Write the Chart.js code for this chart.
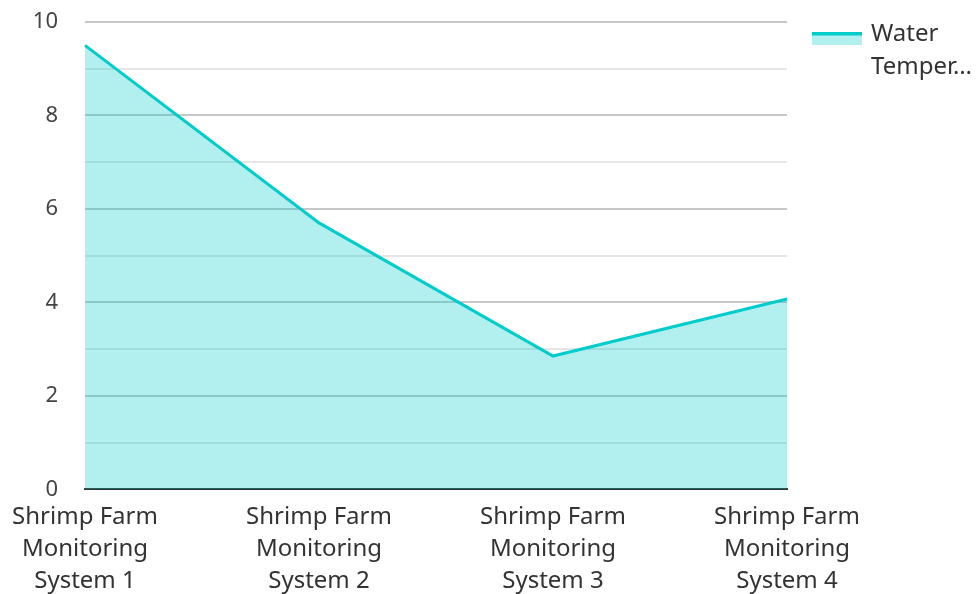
<!DOCTYPE html>
<html>
<head>
<meta charset="utf-8">
<script src="https://cdn.jsdelivr.net/npm/chart.js@4/dist/chart.umd.min.js"></script>
<style>
html,body{margin:0;padding:0;background:#fff;}
#wrap{width:977px;height:594px;position:relative;}
</style>
</head>
<body>
<div id="wrap"><canvas id="c"></canvas></div>
<script>
const categories = [
  ['Shrimp Farm', 'Monitoring', 'System 1'],
  ['Shrimp Farm', 'Monitoring', 'System 2'],
  ['Shrimp Farm', 'Monitoring', 'System 3'],
  ['Shrimp Farm', 'Monitoring', 'System 4']
];
const seriesName = 'Water Temperature';
const legendLines = ['Water', 'Temper…'];
const waterTemperature = [9.5, 5.7, 2.85, 4.07];
const yTicks = [0, 2, 4, 6, 8, 10];

const FONT = '"Noto Sans", "Open Sans", sans-serif';
const LINE = '#00cccc';
const FILL = 'rgba(0,204,204,0.3)';

const legendPlugin = {
  id: 'customLegend',
  afterDraw(chart) {
    const ctx = chart.ctx;
    ctx.save();
    ctx.fillStyle = FILL;
    ctx.fillRect(812, 32, 50, 13);
    ctx.fillStyle = LINE;
    ctx.fillRect(812, 32, 50, 3.5);
    ctx.fillStyle = '#333';
    ctx.font = '24px ' + FONT;
    ctx.textBaseline = 'middle';
    ctx.textAlign = 'left';
    legendLines.forEach((t, i) => ctx.fillText(t, 871, 34 + i * 33));
    ctx.restore();
  }
};

new Chart(document.getElementById('c'), {
  type: 'line',
  data: {
    labels: categories,
    datasets: [{
      label: seriesName,
      data: waterTemperature,
      borderColor: LINE,
      backgroundColor: FILL,
      borderWidth: 3,
      fill: 'origin',
      tension: 0,
      pointRadius: 0,
      pointHoverRadius: 0
    }]
  },
  options: {
    responsive: true,
    maintainAspectRatio: false,
    animation: false,
    layout: { padding: { top: 22, right: 190, left: 0, bottom: -15 } },
    plugins: { legend: { display: false }, tooltip: { enabled: false } },
    scales: {
      x: {
        grid: { display: false, drawTicks: false },
        border: { display: true, color: '#333', width: 2 },
        ticks: { color: '#333', font: { family: FONT, size: 24, lineHeight: 1.33 }, padding: 12, maxRotation: 0, autoSkip: false }
      },
      y: {
        min: 0, max: 10,
        afterFit(s) { s.width = 85; },
        border: { display: false },
        grid: {
          drawTicks: true,
          tickLength: 27,
          tickColor: 'rgba(0,0,0,0)',
          color: (c) => (c.tick && yTicks.includes(c.tick.value)) ? '#c8c8c8' : '#e6e6e6',
          lineWidth: (c) => (c.tick && c.tick.value === 0) ? 0 : 2
        },
        ticks: {
          stepSize: 1,
          padding: 0,
          color: '#444',
          font: { family: FONT, size: 22 },
          callback: (v) => yTicks.includes(v) ? String(v) : ''
        }
      }
    }
  },
  plugins: [legendPlugin]
});
</script>
</body>
</html>
